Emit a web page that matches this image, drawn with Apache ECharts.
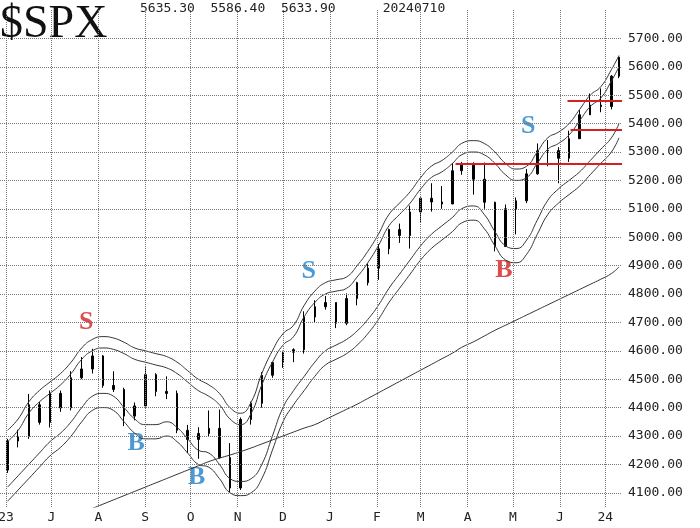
<!DOCTYPE html>
<html><head><meta charset="utf-8">
<script src="https://cdn.jsdelivr.net/npm/echarts@6/dist/echarts.min.js"></script>
<style>html,body{margin:0;padding:0;background:#fff}#c{width:700px;height:528px}</style>
</head><body><div id="c"></div>
<script>
// weekly bars, Fridays
var weeks = ['2023-06-02','2023-06-09','2023-06-16','2023-06-23','2023-06-30','2023-07-07','2023-07-14','2023-07-21','2023-07-28',
 '2023-08-04','2023-08-11','2023-08-18','2023-08-25','2023-09-01','2023-09-08','2023-09-15','2023-09-22','2023-09-29',
 '2023-10-06','2023-10-13','2023-10-20','2023-10-27','2023-11-03','2023-11-10','2023-11-17','2023-11-24',
 '2023-12-01','2023-12-08','2023-12-15','2023-12-22','2023-12-29','2024-01-05','2024-01-12','2024-01-19','2024-01-26',
 '2024-02-02','2024-02-09','2024-02-16','2024-02-23','2024-03-01','2024-03-08','2024-03-15','2024-03-22','2024-03-28',
 '2024-04-05','2024-04-12','2024-04-19','2024-04-26','2024-05-03','2024-05-10','2024-05-17','2024-05-24','2024-05-31',
 '2024-06-07','2024-06-14','2024-06-21','2024-06-28','2024-07-05','2024-07-10'];
var opens  = [4180,4282,4299,4410,4348,4450,4399,4505,4536,4582,4478,4464,4370,4406,4516,4457,4450,4320,4288,4309,4327,4224,4117,4358,4415,4514,4559,4595,4604,4719,4755,4770,4697,4784,4840,4891,4959,5027,5006,5089,5137,5124,5117,5234,5254,5204,5123,4967,5100,5128,5223,5304,5305,5278,5347,5431,5465,5460,5567];
var closes = [4282,4299,4410,4348,4450,4399,4505,4536,4582,4478,4464,4370,4406,4516,4457,4450,4320,4288,4309,4327,4224,4117,4358,4415,4514,4559,4595,4604,4719,4755,4770,4697,4784,4840,4891,4959,5027,5006,5089,5137,5124,5117,5234,5254,5204,5123,4967,5100,5128,5223,5304,5305,5278,5347,5431,5465,5460,5567,5634];
var lows   = [4170,4260,4290,4340,4330,4385,4390,4500,4520,4470,4455,4335,4355,4400,4440,4430,4310,4240,4220,4300,4220,4103,4110,4340,4400,4505,4540,4560,4590,4700,4745,4680,4690,4760,4830,4850,4940,4980,4960,5050,5090,5100,5150,5220,5150,5100,4950,4990,5010,5120,5220,5250,5190,5265,5350,5440,5440,5450,5560];
var highs  = [4290,4322,4448,4420,4460,4460,4528,4578,4607,4585,4528,4470,4418,4542,4521,4510,4460,4339,4331,4390,4393,4275,4365,4421,4525,4560,4600,4609,4739,4778,4793,4770,4802,4843,4907,4976,5030,5048,5111,5140,5190,5180,5261,5265,5264,5263,5125,5115,5140,5240,5330,5342,5317,5375,5448,5506,5524,5571,5635];
var upperOut = [4320,4360,4420,4460,4490,4520,4560,4610,4640,4650,4645,4630,4610,4600,4590,4580,4560,4530,4500,4480,4450,4400,4380,4420,4520,4600,4660,4690,4760,4810,4840,4850,4860,4900,4950,5010,5080,5120,5160,5210,5250,5270,5300,5330,5340,5330,5300,5260,5240,5250,5300,5350,5370,5400,5450,5500,5530,5590,5640];
var upperIn  = [4280,4320,4380,4420,4450,4480,4520,4570,4600,4610,4605,4590,4570,4560,4550,4540,4520,4490,4460,4440,4410,4360,4340,4380,4480,4560,4620,4650,4720,4770,4800,4810,4820,4860,4910,4970,5040,5080,5120,5170,5210,5230,5260,5290,5300,5290,5260,5220,5200,5210,5260,5310,5330,5360,5410,5460,5490,5550,5600];
var lowerIn  = [4120,4160,4200,4240,4280,4310,4350,4400,4440,4450,4440,4400,4360,4340,4340,4350,4330,4290,4250,4240,4200,4150,4140,4150,4200,4300,4400,4460,4510,4560,4600,4620,4640,4670,4710,4760,4820,4870,4920,4970,5010,5040,5070,5100,5110,5080,5020,4970,4960,4990,5060,5130,5170,5200,5230,5270,5310,5350,5400];
var lowerOut = [4070,4110,4150,4190,4230,4260,4300,4350,4390,4400,4390,4350,4310,4290,4290,4300,4280,4240,4200,4190,4150,4100,4090,4100,4150,4250,4350,4410,4460,4510,4550,4570,4590,4620,4660,4710,4770,4820,4870,4920,4960,4990,5020,5050,5060,5030,4970,4920,4910,4940,5010,5080,5120,5150,5180,5220,5260,5300,5350];
var ma200    = [null,null,null,null,null,null,null,4030,4045,4060,4075,4090,4105,4120,4135,4150,4165,4180,4195,4210,4222,4233,4245,4258,4272,4286,4300,4314,4328,
  4340,4358,4376,4394,4412,4432,4452,4472,4492,4512,4532,4552,4572,4592,4612,4632,4652,4672,4690,4708,4726,4744,4762,4780,4798,4816,4834,4852,4872,4895];

var monthTicks = ['2023-06-01','2023-07-01','2023-08-01','2023-09-01','2023-10-01','2023-11-01','2023-12-01','2024-01-01','2024-02-01','2024-03-01','2024-04-01','2024-05-01','2024-06-01','2024-07-01'];
var monthLabels = ['23','J','A','S','O','N','D','J','F','M','A','M','J','24'];
var priceTicks = [4100,4200,4300,4400,4500,4600,4700,4800,4900,5000,5100,5200,5300,5400,5500,5600,5700];
var signals = [['2023-07-24',4700,'S','#d42020'],['2023-08-26',4275,'B','#1f7fc8'],['2023-10-05',4155,'B','#1f7fc8'],['2023-10-29',4045,'B','#d42020'],
  ['2023-12-18',4880,'S','#1f7fc8'],['2024-04-25',4885,'B','#d42020'],['2024-05-11',5390,'S','#1f7fc8']];
var levels = [['2024-06-06',5480],['2024-06-08',5380],['2024-03-24',5260]];

var chart = echarts.init(document.getElementById('c'));
var ohlc = weeks.map(function(d,i){ return [d, opens[i], closes[i], lows[i], highs[i]]; });
function band(arr){ return weeks.map(function(d,i){ return [d, arr[i]]; }); }
function bandSeries(arr){
  return {type:'line', data:band(arr), showSymbol:false, smooth:true, lineStyle:{color:'#333',width:1}, silent:true};
}
var grid = {type:'dotted', color:'#777', width:1};
var gridLines = monthTicks.map(function(d,i){
  return {xAxis:d, label:{formatter:monthLabels[i]}};
}).concat(priceTicks.map(function(v){ return {yAxis:v, label:{show:false}}; }));

chart.setOption({
  animation:false,
  grid:{left:0, right:78, top:10, bottom:21},
  xAxis:{type:'time', min:'2023-05-28', max:'2024-07-12', axisLine:{show:false}, axisTick:{show:false}, axisLabel:{show:false}, splitLine:{show:false}},
  yAxis:{type:'value', position:'right', min:4050, max:5800, interval:50, axisLine:{show:false}, axisTick:{show:false}, splitLine:{show:false},
    axisLabel:{margin:6, fontFamily:'DejaVu Sans Mono', fontSize:13, color:'#222',
      formatter:function(v){ return (v%100===0 && v>=4100 && v<=5700) ? v.toFixed(2) : ''; }}},
  graphic:[
    {type:'text', left:0, top:2, style:{text:'$SPX', font:'46px "Liberation Serif"', fill:'#111'}},
    {type:'text', left:140, top:2, style:{text:'5635.30  5586.40  5633.90      20240710', font:'13px "DejaVu Sans Mono"', fill:'#222'}}
  ],
  series:[
    {type:'line', data:[], silent:true,
      markLine:{symbol:'none', silent:true, lineStyle:grid,
        label:{position:'start', distance:4, fontFamily:'DejaVu Sans Mono', fontSize:13, color:'#222'}, data:gridLines}},
    bandSeries(upperOut), bandSeries(upperIn), bandSeries(lowerIn), bandSeries(lowerOut),
    {type:'line', data:band(ma200), showSymbol:false, smooth:true, lineStyle:{color:'#333',width:1}, silent:true},
    {type:'candlestick', data:ohlc, barWidth:2,
      itemStyle:{color:'#000', color0:'#000', borderColor:'#000', borderColor0:'#000', borderWidth:1}},
    {type:'line', data:[], silent:true,
      markLine:{symbol:'none', silent:true, lineStyle:{color:'#d42020', width:2, type:'solid'}, label:{show:false},
        data:levels.map(function(l){ return [{coord:[l[0], l[1]]},{coord:['2024-07-12', l[1]]}]; })}},
    {type:'scatter', data:signals.map(function(s){ return {value:[s[0],s[1]], label:{formatter:s[2], color:s[3]}}; }),
      symbolSize:0, silent:true,
      label:{show:true, position:'inside', fontFamily:'Liberation Serif', fontWeight:'bold', fontSize:26}}
  ]
});
</script></body></html>
